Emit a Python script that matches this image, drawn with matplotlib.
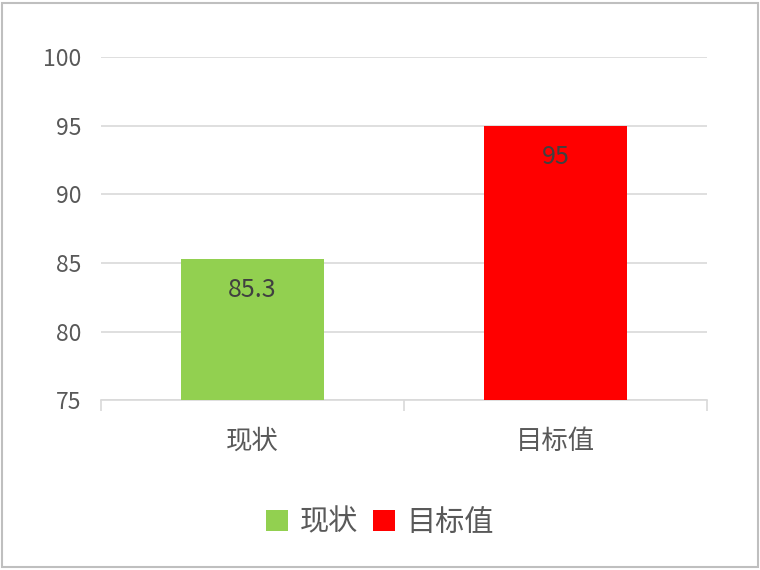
import matplotlib.pyplot as plt
from matplotlib.patches import Rectangle

plt.rcParams['font.family'] = ['Noto Sans CJK SC', 'DejaVu Sans']

categories = ['现状', '目标值']
values = [85.3, 95]
colors = ['#92D050', '#FF0000']
y_ticks = [75, 80, 85, 90, 95, 100]

fig = plt.figure(figsize=(7.6, 5.7), dpi=100)
ax = fig.add_axes([0.133, 0.298, 0.797, 0.602])

x = range(len(categories))
bars = ax.bar(x, [v - 75 for v in values], bottom=75, width=0.47,
              color=colors, label=categories, zorder=3)

for xi, v in zip(x, values):
    ax.text(xi, v - 2.3, f'{v:g}', ha='center', va='center',
            fontsize=18, color='#404040', zorder=4)

ax.set_ylim(75, 100)
ax.set_xlim(-0.5, 1.5)
ax.set_yticks(y_ticks)
ax.set_xticks(list(x))
ax.set_xticklabels(categories, fontsize=19, color='#595959')
ax.tick_params(axis='y', length=0, labelsize=16.5, labelcolor='#595959', pad=14)
ax.tick_params(axis='x', length=0, pad=20)
# minor ticks between categories
ax.set_xticks([-0.5, 0.5, 1.5], minor=True)
ax.tick_params(axis='x', which='minor', length=8, color='#D9D9D9', width=1.2)

ax.grid(axis='y', color='#D9D9D9', linewidth=1.2, zorder=0)
for s in ['top', 'right', 'left']:
    ax.spines[s].set_visible(False)
ax.spines['bottom'].set_color('#D9D9D9')
ax.spines['bottom'].set_linewidth(1.2)

leg = fig.legend(handles=bars, labels=categories, loc='center',
                 bbox_to_anchor=(0.5, 0.083), ncol=2, frameon=False,
                 fontsize=21, handlelength=0.75, handleheight=0.75,
                 handletextpad=0.4, columnspacing=0.5)
for t in leg.get_texts():
    t.set_color('#595959')

fig.patches.append(Rectangle((0.003, 0.005), 0.994, 0.99, transform=fig.transFigure,
                             fill=False, edgecolor='#BFBFBF', linewidth=1.5))

fig.savefig('out.png', dpi=100)
